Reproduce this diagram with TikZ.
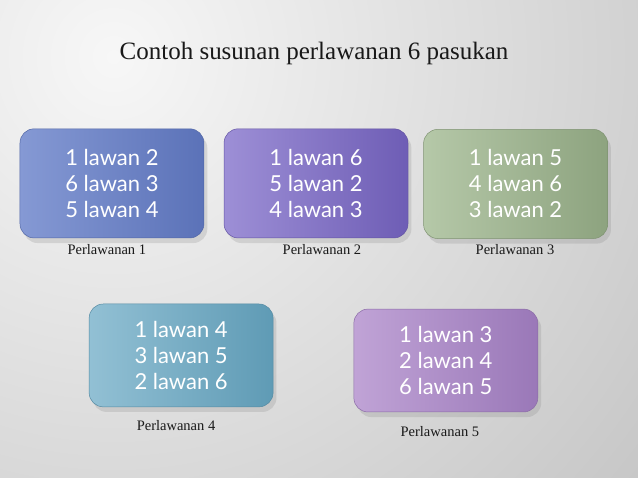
\documentclass[tikz,border=0pt]{standalone}
\usepackage{fontspec}
\usepackage{tikz}
\usetikzlibrary{shadows, positioning}
\usepackage{xcolor}
\newfontfamily\latofont{Lato}
\newfontfamily\timesfont{Liberation Serif}

\definecolor{bglight}{HTML}{F7F7F7}
\definecolor{bgdark}{HTML}{A6A6A6}
\definecolor{bluelight}{HTML}{8599D4}
\definecolor{bluedark}{HTML}{5B72B8}
\definecolor{purplelight}{HTML}{9D8FD6}
\definecolor{purpledark}{HTML}{6E5DB5}
\definecolor{greenlight}{HTML}{B5C8A8}
\definecolor{greendark}{HTML}{8DA37F}
\definecolor{teallight}{HTML}{92C0D4}
\definecolor{tealdark}{HTML}{5F9BB5}
\definecolor{lilaclight}{HTML}{C0A3D6}
\definecolor{lilacdark}{HTML}{9A78B8}

\tikzset{
	match/.style={rounded corners=0.5cm, minimum width=6.49cm, minimum height=3.85cm,
		align=left, text=white, font=\latofont\fontsize{22bp}{26bp}\selectfont,
		line width=0.5pt, drop shadow={opacity=0.22, shadow xshift=0.12cm, shadow yshift=-0.18cm}},
	round label/.style={inner sep = 0pt, text=black!90, font=\timesfont\fontsize{14.5bp}{16bp}\selectfont}
}

\begin{document}
\begin{tikzpicture}
		\useasboundingbox (0cm,0cm) rectangle (22.51cm,-16.86cm);
		\begin{scope}
			\clip (0cm,0cm) rectangle (22.51cm,-16.86cm);
			\shade[inner color=bglight, outer color=bgdark] (4cm,-2cm) circle (40cm);
		\end{scope}

		\draw (11.08cm,-1.87cm) node[inner sep = 0pt, text=black!90, font=\timesfont\fontsize{25bp}{28bp}\selectfont] (title) {Contoh susunan perlawanan 6 pasukan}
		(3.95cm, -6.47cm) node[match, draw=bluedark!90!black, left color=bluelight, right color=bluedark] (m1) {1 lawan 2\\6 lawan 3\\5 lawan 4}
		(11.15cm, -6.47cm) node[match, draw=purpledark!90!black, left color=purplelight, right color=purpledark] (m2) {1 lawan 6\\5 lawan 2\\4 lawan 3}
		(18.19cm, -6.49cm) node[match, draw=greendark!90!black, left color=greenlight, right color=greendark] (m3) {1 lawan 5\\4 lawan 6\\3 lawan 2}
		(6.39cm, -12.54cm) node[match, minimum height=3.63cm, draw=tealdark!90!black, left color=teallight, right color=tealdark] (m4) {1 lawan 4\\3 lawan 5\\2 lawan 6}
		(15.73cm, -12.72cm) node[match, minimum height=3.63cm, draw=lilacdark!90!black, left color=lilaclight, right color=lilacdark] (m5) {1 lawan 3\\2 lawan 4\\6 lawan 5};

		\draw (3.77cm, -8.82cm) node[round label] (l1) {Perlawanan 1}
		(11.36cm, -8.82cm) node[round label] (l2) {Perlawanan 2}
		(18.17cm, -8.82cm) node[round label] (l3) {Perlawanan 3}
		(6.21cm, -15.03cm) node[round label] (l4) {Perlawanan 4}
		(15.52cm, -15.21cm) node[round label] (l5) {Perlawanan 5};
	\end{tikzpicture}
\end{document}
